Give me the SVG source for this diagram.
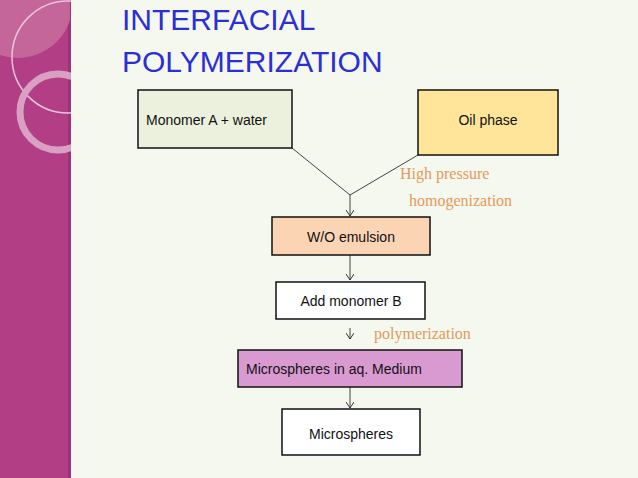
<svg xmlns="http://www.w3.org/2000/svg" width="638" height="478" viewBox="0 0 638 478">
<defs>
<marker id="ah" markerWidth="8" markerHeight="8" refX="6" refY="4" orient="auto" markerUnits="userSpaceOnUse"><path d="M0,0 L6,4 L0,8" fill="none" stroke="#333" stroke-width="1"/></marker>
<style>
.b{stroke:#111;stroke-width:1.5}
.t{font-family:"Liberation Sans",Arial,sans-serif;font-size:14px;fill:#111}
.o{font-family:"Liberation Serif","Times New Roman",serif;font-size:16px;fill:#e39a5a}
.c{stroke:#444;stroke-width:1;fill:none}
</style>
</defs>
<rect width="638" height="478" fill="#f5f8ee"/>
<rect width="70" height="478" fill="#b23f86"/>
<rect x="68" width="3" height="478" fill="#9c3576"/>
<path d="M0,0 H70 V20 A55,55 0 0 1 0,55 Z" fill="#c9719f" opacity="0.8"/>
<circle cx="68" cy="57" r="56" fill="none" stroke="#e8c4da" stroke-width="1.5"/>
<circle cx="58" cy="112" r="38" fill="none" stroke="#d9a0c4" stroke-width="7"/>
<rect x="71" width="567" height="478" fill="#f5f8ee"/>
<text x="122" y="30" font-family="Liberation Sans,Arial,sans-serif" font-size="30" fill="#2b2fd6">INTERFACIAL</text>
<text x="122" y="72" font-family="Liberation Sans,Arial,sans-serif" font-size="30" fill="#2b2fd6">POLYMERIZATION</text>
<g id="connectors">
<path class="c" d="M292,148 L350,195 L418,155"/>
<path class="c" d="M350,195 V216" marker-end="url(#ah)"/>
<path class="c" d="M350,255 V280" marker-end="url(#ah)"/>
<path class="c" d="M350,328 V339" marker-end="url(#ah)"/>
<path class="c" d="M350,387 V408" marker-end="url(#ah)"/>
</g>
<g id="n1"><rect class="b" x="138" y="90" width="154" height="58" fill="#ebf1dd"/><text class="t" x="146" y="125">Monomer A + water</text></g>
<g id="n2"><rect class="b" x="418" y="90" width="140" height="65" fill="#fee599"/><text class="t" x="488" y="125" text-anchor="middle">Oil phase</text></g>
<g id="l1"><text class="o" x="400" y="179">High pressure</text><text class="o" x="409" y="206">homogenization</text></g>
<g id="n3"><rect class="b" x="272" y="217" width="158" height="38" fill="#fbd4b4"/><text class="t" x="351" y="242" text-anchor="middle">W/O emulsion</text></g>
<g id="n4"><rect class="b" x="276" y="282" width="149" height="37" fill="#fff"/><text class="t" x="351" y="306" text-anchor="middle">Add monomer B</text></g>
<g id="l2"><text class="o" x="374" y="339">polymerization</text></g>
<g id="n5"><rect class="b" x="238" y="350" width="224" height="37" fill="#d99ad1"/><text class="t" x="246" y="374">Microspheres in aq. Medium</text></g>
<g id="n6"><rect class="b" x="282" y="409" width="138" height="46" fill="#fff"/><text class="t" x="351" y="439" text-anchor="middle">Microspheres</text></g>
</svg>
